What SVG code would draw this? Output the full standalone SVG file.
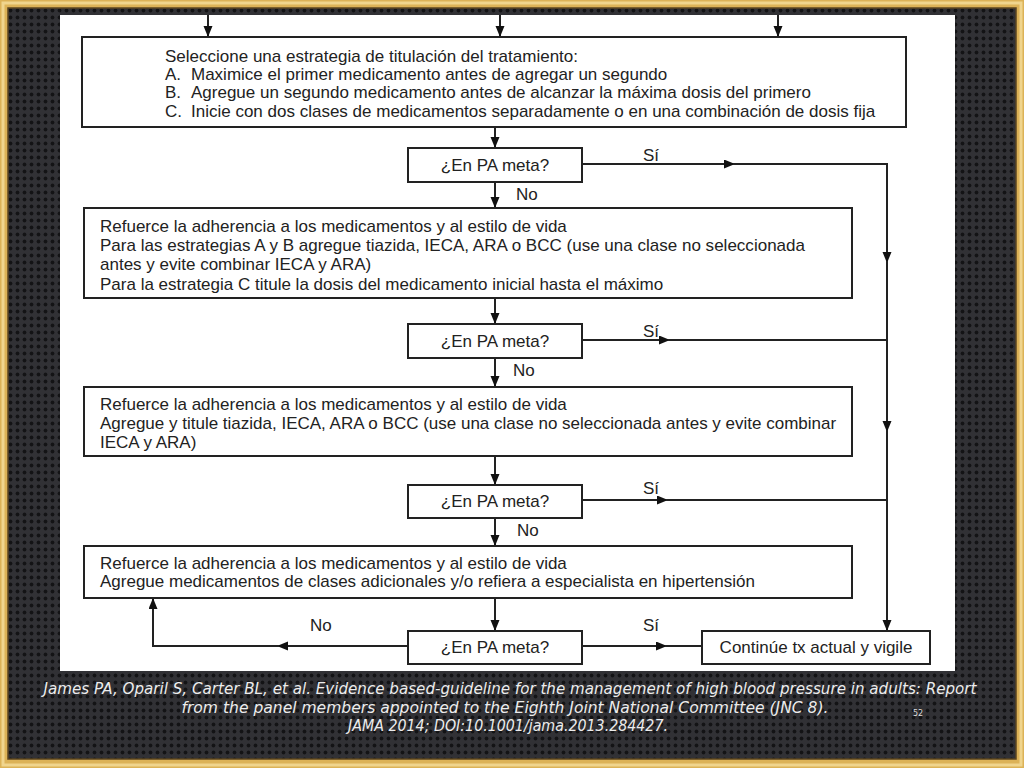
<svg xmlns="http://www.w3.org/2000/svg" width="1024" height="768" viewBox="0 0 1024 768">
<defs>
<pattern id="dots" width="7" height="7" patternUnits="userSpaceOnUse">
<rect width="7" height="7" fill="#313135"/>
<circle cx="3.5" cy="3.5" r="1.9" fill="#131315"/>
</pattern>
<marker id="arr" markerUnits="userSpaceOnUse" markerWidth="12" markerHeight="10" refX="11" refY="4.5" orient="auto">
<path d="M0,0 L11,4.5 L0,9 z" fill="#111"/>
</marker>
<clipPath id="c1"><rect x="82" y="37" width="824" height="83"/></clipPath>
<clipPath id="c2"><rect x="84" y="208" width="768" height="85"/></clipPath>
<clipPath id="c3"><rect x="84" y="387" width="768" height="64"/></clipPath>
</defs>
<style>
.box{fill:#fff;stroke:#222;stroke-width:2}
.t{font-family:"Liberation Sans",Arial,sans-serif;font-size:17px;fill:#222}
.c{text-anchor:middle}
.ln{fill:none;stroke:#222;stroke-width:2}
.cite{font-family:"DejaVu Sans","Liberation Sans",sans-serif;font-style:italic;font-size:15px;fill:#ececec;text-anchor:middle}
</style>
<rect x="0" y="0" width="1024" height="768" fill="#dcb257"/>
<rect x="3" y="3" width="1018" height="762" fill="none" stroke="#f0d58e" stroke-width="3"/>
<rect x="8" y="8" width="1008" height="751" fill="url(#dots)" stroke="#5a4420" stroke-width="1.5"/>
<rect x="60" y="15" width="895" height="656" fill="#fff"/>

<g id="connectors">
<line class="ln" x1="208" y1="15" x2="208" y2="37" marker-end="url(#arr)"/>
<line class="ln" x1="500" y1="15" x2="500" y2="37" marker-end="url(#arr)"/>
<line class="ln" x1="778" y1="15" x2="778" y2="37" marker-end="url(#arr)"/>
<line class="ln" x1="495" y1="127" x2="495" y2="148" marker-end="url(#arr)"/>
<line class="ln" x1="495" y1="182" x2="495" y2="208" marker-end="url(#arr)"/>
<line class="ln" x1="495" y1="298" x2="495" y2="324" marker-end="url(#arr)"/>
<line class="ln" x1="495" y1="358" x2="495" y2="387" marker-end="url(#arr)"/>
<line class="ln" x1="495" y1="456" x2="495" y2="485" marker-end="url(#arr)"/>
<line class="ln" x1="495" y1="518" x2="495" y2="546" marker-end="url(#arr)"/>
<line class="ln" x1="495" y1="598" x2="495" y2="631" marker-end="url(#arr)"/>
<line class="ln" x1="582" y1="164" x2="735" y2="164" marker-end="url(#arr)"/>
<polyline class="ln" points="733,164 887,164 887,263" marker-end="url(#arr)"/>
<line class="ln" x1="887" y1="261" x2="887" y2="432" marker-end="url(#arr)"/>
<line class="ln" x1="887" y1="430" x2="887" y2="631" marker-end="url(#arr)"/>
<line class="ln" x1="582" y1="340" x2="670" y2="340" marker-end="url(#arr)"/>
<line class="ln" x1="668" y1="340" x2="887" y2="340"/>
<line class="ln" x1="582" y1="500" x2="668" y2="500" marker-end="url(#arr)"/>
<line class="ln" x1="666" y1="500" x2="887" y2="500"/>
<line class="ln" x1="582" y1="646" x2="667" y2="646" marker-end="url(#arr)"/>
<line class="ln" x1="665" y1="646" x2="702" y2="646"/>
<line class="ln" x1="408" y1="646" x2="277" y2="646" marker-end="url(#arr)"/>
<polyline class="ln" points="279,646 153,646 153,598" marker-end="url(#arr)"/>
<text class="t" x="643" y="161">Sí</text>
<text class="t" x="643" y="337">Sí</text>
<text class="t" x="643" y="494">Sí</text>
<text class="t" x="643" y="631">Sí</text>
<text class="t" x="516" y="200">No</text>
<text class="t" x="513" y="376">No</text>
<text class="t" x="517" y="536">No</text>
<text class="t" x="310" y="631">No</text>
</g>

<g id="box1">
<rect class="box" x="82" y="37" width="824" height="90"/>
<g clip-path="url(#c1)">
<text class="t" x="165" y="62">Seleccione una estrategia de titulación del tratamiento:</text>
<text class="t" x="165" y="80">A.</text><text class="t" x="191" y="80">Maximice el primer medicamento antes de agregar un segundo</text>
<text class="t" x="165" y="98">B.</text><text class="t" x="191" y="98">Agregue un segundo medicamento antes de alcanzar la máxima dosis del primero</text>
<text class="t" x="165" y="117">C.</text><text class="t" x="191" y="117">Inicie con dos clases de medicamentos separadamente o en una combinación de dosis fija</text>
</g>
</g>

<g id="pa1">
<rect class="box" x="408" y="148" width="174" height="34"/>
<text class="t c" x="495" y="171">¿En PA meta?</text>
</g>

<g id="box2">
<rect class="box" x="84" y="208" width="768" height="90"/>
<g clip-path="url(#c2)">
<text class="t" x="100" y="232">Refuerce la adherencia a los medicamentos y al estilo de vida</text>
<text class="t" x="100" y="251" textLength="705" lengthAdjust="spacingAndGlyphs">Para las estrategias A y B agregue tiazida, IECA, ARA o BCC (use una clase no seleccionada</text>
<text class="t" x="100" y="270">antes y evite combinar IECA y ARA)</text>
<text class="t" x="100" y="290">Para la estrategia C titule la dosis del medicamento inicial hasta el máximo</text>
</g>
</g>

<g id="pa2">
<rect class="box" x="408" y="324" width="174" height="34"/>
<text class="t c" x="495" y="347">¿En PA meta?</text>
</g>

<g id="box3">
<rect class="box" x="84" y="387" width="768" height="69"/>
<g clip-path="url(#c3)">
<text class="t" x="100" y="410">Refuerce la adherencia a los medicamentos y al estilo de vida</text>
<text class="t" x="100" y="429">Agregue y titule tiazida, IECA, ARA o BCC (use una clase no seleccionada antes y evite combinar</text>
<text class="t" x="100" y="448">IECA y ARA)</text>
</g>
</g>

<g id="pa3">
<rect class="box" x="408" y="485" width="174" height="33"/>
<text class="t c" x="495" y="507">¿En PA meta?</text>
</g>

<g id="box4">
<rect class="box" x="84" y="546" width="768" height="52"/>
<text class="t" x="100" y="569">Refuerce la adherencia a los medicamentos y al estilo de vida</text>
<text class="t" x="100" y="587">Agregue medicamentos de clases adicionales y/o refiera a especialista en hipertensión</text>
</g>

<g id="pa4">
<rect class="box" x="408" y="631" width="174" height="33"/>
<text class="t c" x="495" y="653">¿En PA meta?</text>
</g>

<g id="continue">
<rect class="box" x="702" y="631" width="228" height="33"/>
<text class="t c" x="816" y="653">Continúe tx actual y vigile</text>
</g>

<g id="citation">
<text class="cite" x="510" y="694" textLength="933" lengthAdjust="spacingAndGlyphs">James PA, Oparil S, Carter BL, et al. Evidence based-guideline for the management of high blood pressure in adults: Report</text>
<text class="cite" x="505" y="713" textLength="647" lengthAdjust="spacingAndGlyphs">from the panel members appointed to the Eighth Joint National Committee (JNC 8).</text>
<text class="cite" x="508" y="731" textLength="320" lengthAdjust="spacingAndGlyphs">JAMA 2014; DOI:10.1001/jama.2013.284427.</text>
<text x="918" y="716" font-family="DejaVu Sans,sans-serif" font-size="8" fill="#ddd" text-anchor="middle">52</text>
</g>
</svg>
